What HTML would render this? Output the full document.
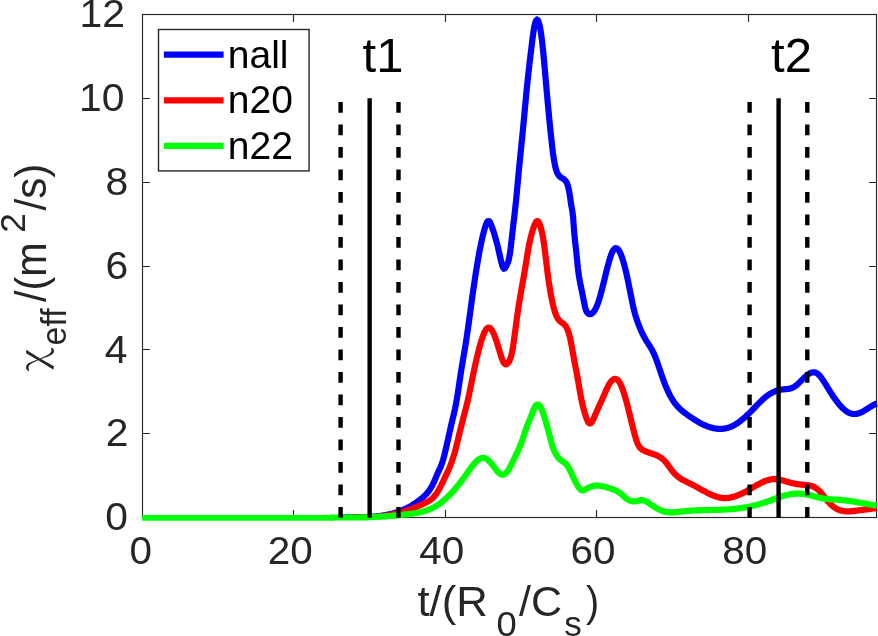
<!DOCTYPE html>
<html lang="en"><head><meta charset="utf-8"><title>chi_eff vs t</title><style>
html,body{margin:0;padding:0;background:#fff;}
body{width:878px;height:636px;overflow:hidden;position:relative;}
text{font-family:"Liberation Sans",Arial,Helvetica,sans-serif;}
.tk{fill:#262626;}
.lg{fill:#000;}
.an{fill:#000;}
.lb{fill:#262626;}
.chi{font-family:"Noto Serif CJK SC","DejaVu Serif",serif;font-weight:400;}
</style></head><body>
<svg width="878" height="636" viewBox="0 0 878 636" style="display:block;position:absolute;left:0;top:0">
<rect width="878" height="636" fill="#fff"/>
<g stroke="#262626" stroke-width="1.15" fill="none">
<rect x="142.5" y="14.5" width="734.0" height="503.0"/>
<path d="M293.5,517.5 v-7.4 M293.5,14.5 v7.4"/>
<path d="M445.5,517.5 v-7.4 M445.5,14.5 v7.4"/>
<path d="M596.5,517.5 v-7.4 M596.5,14.5 v7.4"/>
<path d="M748.5,517.5 v-7.4 M748.5,14.5 v7.4"/>
<path d="M142.5,433.5 h7.4 M876.5,433.5 h-7.4"/>
<path d="M142.5,349.5 h7.4 M876.5,349.5 h-7.4"/>
<path d="M142.5,266.5 h7.4 M876.5,266.5 h-7.4"/>
<path d="M142.5,182.5 h7.4 M876.5,182.5 h-7.4"/>
<path d="M142.5,98.5 h7.4 M876.5,98.5 h-7.4"/>
</g>
<g fill="none" stroke-width="6.2" stroke-linejoin="round" stroke-linecap="butt">
<clipPath id="cp"><rect x="140" y="0" width="740" height="519.6"/></clipPath>
<path stroke="#0000ff" clip-path="url(#cp)" d="M338.0,517.5 L344.0,517.4 L345.0,517.4 L346.0,517.3 L347.0,517.3 L348.0,517.3 L349.0,517.3 L350.0,517.3 L351.0,517.3 L352.0,517.2 L353.0,517.2 L354.0,517.2 L355.0,517.2 L356.0,517.2 L357.0,517.2 L358.0,517.2 L359.0,517.2 L360.0,517.2 L361.0,517.1 L362.0,517.1 L363.0,517.1 L364.0,517.1 L365.0,517.0 L366.0,517.0 L367.0,517.0 L368.0,516.9 L369.0,516.9 L370.0,516.8 L371.0,516.8 L372.0,516.7 L373.0,516.7 L374.0,516.6 L375.0,516.5 L376.0,516.4 L377.0,516.3 L378.0,516.2 L379.0,516.1 L380.0,516.0 L381.0,515.8 L382.0,515.7 L383.0,515.6 L384.0,515.4 L385.0,515.2 L386.0,515.0 L387.0,514.8 L388.0,514.6 L389.0,514.4 L390.0,514.2 L391.0,513.9 L392.0,513.7 L393.0,513.4 L394.0,513.1 L395.0,512.8 L396.0,512.5 L397.0,512.2 L398.0,511.9 L399.0,511.5 L400.0,511.1 L401.0,510.7 L402.0,510.3 L403.0,509.9 L404.0,509.5 L405.0,509.0 L406.0,508.5 L407.0,508.0 L408.0,507.5 L409.0,507.0 L410.0,506.4 L411.0,505.9 L412.0,505.3 L413.0,504.6 L414.0,504.0 L415.0,503.4 L416.0,502.7 L417.0,502.0 L418.0,501.2 L419.0,500.5 L420.0,499.7 L421.0,498.9 L422.0,498.1 L423.0,497.3 L424.0,496.4 L425.0,495.4 L426.0,494.4 L427.0,493.3 L428.0,492.1 L429.0,490.7 L430.0,489.3 L431.0,487.7 L432.0,485.9 L433.0,484.0 L434.0,481.9 L435.0,479.6 L436.0,477.1 L437.0,474.7 L438.0,472.5 L439.0,470.4 L440.0,468.3 L441.0,466.0 L442.0,463.2 L443.0,460.1 L444.0,456.5 L445.0,452.5 L446.0,448.3 L447.0,443.9 L448.0,439.4 L449.0,434.9 L450.0,430.4 L451.0,425.9 L452.0,421.7 L453.0,417.6 L454.0,413.3 L455.0,408.9 L456.0,403.9 L457.0,398.3 L458.0,392.0 L459.0,385.3 L460.0,378.5 L461.0,371.9 L462.0,365.7 L463.0,359.8 L464.0,354.0 L465.0,348.1 L466.0,341.9 L467.0,335.3 L468.0,328.3 L469.0,321.0 L470.0,313.7 L471.0,306.3 L472.0,299.0 L473.0,291.9 L474.0,285.0 L475.0,278.3 L476.0,271.8 L477.0,265.7 L478.0,259.7 L479.0,254.1 L480.0,248.8 L481.0,243.8 L482.0,239.2 L483.0,234.9 L484.0,231.0 L485.0,227.5 L486.0,224.5 L487.0,222.3 L488.0,221.1 L489.0,221.1 L490.0,222.3 L491.0,224.5 L492.0,227.1 L493.0,230.1 L494.0,233.1 L495.0,236.3 L496.0,239.8 L497.0,243.5 L498.0,247.6 L499.0,252.0 L500.0,256.5 L501.0,260.9 L502.0,264.7 L503.0,267.5 L504.0,268.8 L505.0,268.3 L506.0,266.5 L507.0,264.5 L508.0,262.3 L509.0,258.8 L510.0,253.1 L511.0,245.3 L512.0,236.4 L513.0,227.5 L514.0,219.1 L515.0,210.4 L516.0,201.0 L517.0,190.6 L518.0,179.7 L519.0,169.0 L520.0,158.8 L521.0,148.9 L522.0,139.1 L523.0,129.0 L524.0,118.4 L525.0,107.6 L526.0,96.9 L527.0,86.6 L528.0,77.0 L529.0,68.1 L530.0,59.5 L531.0,51.2 L532.0,42.8 L533.0,34.9 L534.0,28.2 L535.0,23.5 L536.0,20.6 L537.0,19.6 L538.0,20.4 L539.0,23.0 L540.0,27.2 L541.0,33.1 L542.0,40.7 L543.0,49.8 L544.0,60.3 L545.0,71.6 L546.0,83.3 L547.0,94.6 L548.0,105.5 L549.0,116.0 L550.0,126.2 L551.0,135.9 L552.0,145.0 L553.0,153.2 L554.0,160.1 L555.0,165.5 L556.0,169.4 L557.0,172.3 L558.0,174.3 L559.0,175.7 L560.0,176.7 L561.0,177.5 L562.0,178.1 L563.0,178.6 L564.0,179.3 L565.0,180.2 L566.0,181.4 L567.0,183.3 L568.0,186.2 L569.0,190.5 L570.0,196.6 L571.0,203.6 L572.0,209.1 L573.0,215.9 L574.0,229.9 L575.0,240.7 L576.0,249.3 L577.0,259.4 L578.0,269.1 L579.0,276.5 L580.0,282.1 L581.0,286.9 L582.0,291.8 L583.0,296.8 L584.0,301.8 L585.0,306.7 L586.0,310.4 L587.0,312.4 L588.0,313.4 L589.0,313.9 L590.0,314.1 L591.0,313.9 L592.0,313.4 L593.0,312.6 L594.0,311.4 L595.0,309.8 L596.0,307.9 L597.0,305.6 L598.0,303.0 L599.0,300.0 L600.0,296.7 L601.0,293.1 L602.0,289.3 L603.0,285.3 L604.0,281.3 L605.0,277.2 L606.0,273.1 L607.0,269.1 L608.0,265.2 L609.0,261.6 L610.0,258.2 L611.0,255.2 L612.0,252.7 L613.0,250.6 L614.0,249.2 L615.0,248.3 L616.0,248.1 L617.0,248.4 L618.0,249.2 L619.0,250.6 L620.0,252.4 L621.0,254.7 L622.0,257.4 L623.0,260.5 L624.0,263.9 L625.0,267.7 L626.0,271.8 L627.0,276.2 L628.0,280.9 L629.0,285.8 L630.0,290.8 L631.0,295.9 L632.0,300.9 L633.0,305.7 L634.0,310.0 L635.0,313.8 L636.0,317.2 L637.0,320.2 L638.0,323.1 L639.0,325.7 L640.0,328.2 L641.0,330.5 L642.0,332.7 L643.0,334.8 L644.0,336.7 L645.0,338.5 L646.0,340.3 L647.0,341.9 L648.0,343.4 L649.0,345.0 L650.0,346.5 L651.0,348.2 L652.0,349.9 L653.0,351.8 L654.0,353.9 L655.0,356.2 L656.0,358.8 L657.0,361.5 L658.0,364.4 L659.0,367.3 L660.0,370.3 L661.0,373.3 L662.0,376.1 L663.0,378.9 L664.0,381.6 L665.0,384.3 L666.0,386.8 L667.0,389.1 L668.0,391.4 L669.0,393.5 L670.0,395.4 L671.0,397.2 L672.0,398.9 L673.0,400.5 L674.0,402.0 L675.0,403.4 L676.0,404.6 L677.0,405.8 L678.0,406.9 L679.0,408.0 L680.0,408.9 L681.0,409.9 L682.0,410.7 L683.0,411.5 L684.0,412.3 L685.0,413.1 L686.0,413.8 L687.0,414.5 L688.0,415.3 L689.0,416.0 L690.0,416.7 L691.0,417.3 L692.0,418.0 L693.0,418.7 L694.0,419.3 L695.0,420.0 L696.0,420.6 L697.0,421.2 L698.0,421.8 L699.0,422.3 L700.0,422.9 L701.0,423.4 L702.0,423.9 L703.0,424.4 L704.0,424.9 L705.0,425.3 L706.0,425.8 L707.0,426.2 L708.0,426.6 L709.0,426.9 L710.0,427.2 L711.0,427.5 L712.0,427.8 L713.0,428.1 L714.0,428.3 L715.0,428.5 L716.0,428.6 L717.0,428.7 L718.0,428.8 L719.0,428.9 L720.0,428.9 L721.0,428.9 L722.0,428.8 L723.0,428.8 L724.0,428.6 L725.0,428.5 L726.0,428.3 L727.0,428.0 L728.0,427.8 L729.0,427.4 L730.0,427.1 L731.0,426.7 L732.0,426.2 L733.0,425.8 L734.0,425.2 L735.0,424.7 L736.0,424.1 L737.0,423.4 L738.0,422.8 L739.0,422.0 L740.0,421.3 L741.0,420.5 L742.0,419.7 L743.0,418.9 L744.0,418.0 L745.0,417.2 L746.0,416.3 L747.0,415.3 L748.0,414.4 L749.0,413.4 L750.0,412.4 L751.0,411.4 L752.0,410.3 L753.0,409.3 L754.0,408.3 L755.0,407.2 L756.0,406.2 L757.0,405.1 L758.0,404.1 L759.0,403.1 L760.0,402.1 L761.0,401.1 L762.0,400.2 L763.0,399.2 L764.0,398.4 L765.0,397.5 L766.0,396.7 L767.0,395.9 L768.0,395.2 L769.0,394.5 L770.0,393.9 L771.0,393.3 L772.0,392.8 L773.0,392.3 L774.0,391.8 L775.0,391.4 L776.0,391.0 L777.0,390.6 L778.0,390.3 L779.0,390.1 L780.0,389.8 L781.0,389.7 L782.0,389.5 L783.0,389.4 L784.0,389.3 L785.0,389.2 L786.0,389.1 L787.0,389.0 L788.0,388.9 L789.0,388.8 L790.0,388.6 L791.0,388.3 L792.0,387.9 L793.0,387.5 L794.0,387.0 L795.0,386.3 L796.0,385.6 L797.0,384.8 L798.0,383.9 L799.0,382.9 L800.0,381.9 L801.0,380.9 L802.0,379.9 L803.0,378.9 L804.0,377.9 L805.0,377.0 L806.0,376.1 L807.0,375.2 L808.0,374.5 L809.0,373.8 L810.0,373.2 L811.0,372.8 L812.0,372.5 L813.0,372.3 L814.0,372.3 L815.0,372.5 L816.0,372.8 L817.0,373.3 L818.0,374.0 L819.0,375.0 L820.0,376.0 L821.0,377.3 L822.0,378.7 L823.0,380.1 L824.0,381.7 L825.0,383.3 L826.0,384.9 L827.0,386.6 L828.0,388.2 L829.0,389.8 L830.0,391.4 L831.0,393.0 L832.0,394.5 L833.0,396.0 L834.0,397.5 L835.0,398.9 L836.0,400.3 L837.0,401.7 L838.0,403.0 L839.0,404.2 L840.0,405.4 L841.0,406.5 L842.0,407.5 L843.0,408.5 L844.0,409.4 L845.0,410.2 L846.0,411.0 L847.0,411.7 L848.0,412.2 L849.0,412.8 L850.0,413.2 L851.0,413.5 L852.0,413.8 L853.0,414.0 L854.0,414.0 L855.0,414.0 L856.0,413.9 L857.0,413.8 L858.0,413.5 L859.0,413.2 L860.0,412.8 L861.0,412.4 L862.0,411.9 L863.0,411.4 L864.0,410.8 L865.0,410.2 L866.0,409.6 L867.0,409.0 L868.0,408.3 L869.0,407.7 L870.0,407.1 L871.0,406.5 L872.0,405.9 L873.0,405.3 L874.0,404.8 L875.0,404.3 L876.0,403.8 L876.8,403.5"/>
<path stroke="#ff0000" clip-path="url(#cp)" d="M350.0,517.5 L360.0,517.4 L361.0,517.4 L362.0,517.4 L363.0,517.4 L364.0,517.4 L365.0,517.4 L366.0,517.4 L367.0,517.4 L368.0,517.3 L369.0,517.3 L370.0,517.3 L371.0,517.2 L372.0,517.2 L373.0,517.1 L374.0,517.0 L375.0,517.0 L376.0,516.9 L377.0,516.8 L378.0,516.7 L379.0,516.6 L380.0,516.5 L381.0,516.3 L382.0,516.2 L383.0,516.1 L384.0,515.9 L385.0,515.8 L386.0,515.6 L387.0,515.5 L388.0,515.3 L389.0,515.1 L390.0,514.9 L391.0,514.7 L392.0,514.5 L393.0,514.3 L394.0,514.1 L395.0,513.9 L396.0,513.6 L397.0,513.4 L398.0,513.1 L399.0,512.9 L400.0,512.6 L401.0,512.3 L402.0,512.0 L403.0,511.7 L404.0,511.4 L405.0,511.1 L406.0,510.8 L407.0,510.5 L408.0,510.1 L409.0,509.8 L410.0,509.4 L411.0,509.1 L412.0,508.7 L413.0,508.3 L414.0,507.9 L415.0,507.5 L416.0,507.1 L417.0,506.7 L418.0,506.2 L419.0,505.8 L420.0,505.3 L421.0,504.9 L422.0,504.4 L423.0,503.9 L424.0,503.4 L425.0,502.9 L426.0,502.4 L427.0,501.9 L428.0,501.4 L429.0,500.8 L430.0,500.2 L431.0,499.5 L432.0,498.7 L433.0,497.7 L434.0,496.7 L435.0,495.5 L436.0,494.1 L437.0,492.7 L438.0,491.1 L439.0,489.3 L440.0,487.5 L441.0,485.6 L442.0,483.6 L443.0,481.6 L444.0,479.5 L445.0,477.4 L446.0,475.2 L447.0,473.1 L448.0,471.0 L449.0,468.8 L450.0,466.4 L451.0,463.9 L452.0,461.1 L453.0,458.1 L454.0,454.9 L455.0,451.3 L456.0,447.6 L457.0,443.6 L458.0,439.5 L459.0,435.3 L460.0,431.0 L461.0,426.9 L462.0,422.9 L463.0,419.0 L464.0,415.2 L465.0,411.5 L466.0,407.7 L467.0,403.7 L468.0,399.5 L469.0,394.9 L470.0,390.2 L471.0,385.3 L472.0,380.4 L473.0,375.4 L474.0,370.5 L475.0,365.8 L476.0,361.3 L477.0,357.0 L478.0,352.9 L479.0,349.1 L480.0,345.4 L481.0,341.9 L482.0,338.7 L483.0,335.8 L484.0,333.3 L485.0,331.2 L486.0,329.5 L487.0,328.3 L488.0,327.7 L489.0,327.6 L490.0,328.0 L491.0,329.0 L492.0,330.4 L493.0,332.2 L494.0,334.4 L495.0,337.0 L496.0,339.8 L497.0,342.8 L498.0,346.0 L499.0,349.3 L500.0,352.7 L501.0,356.0 L502.0,358.9 L503.0,361.4 L504.0,363.1 L505.0,364.1 L506.0,364.3 L507.0,363.9 L508.0,363.0 L509.0,361.6 L510.0,359.5 L511.0,356.5 L512.0,352.3 L513.0,346.7 L514.0,339.9 L515.0,332.5 L516.0,325.0 L517.0,317.4 L518.0,310.4 L519.0,303.9 L520.0,297.8 L521.0,292.0 L522.0,286.3 L523.0,280.7 L524.0,275.1 L525.0,269.2 L526.0,263.0 L527.0,256.8 L528.0,250.7 L529.0,245.2 L530.0,240.4 L531.0,236.2 L532.0,232.5 L533.0,229.3 L534.0,226.3 L535.0,223.7 L536.0,221.9 L537.0,221.0 L538.0,221.2 L539.0,222.5 L540.0,224.9 L541.0,228.3 L542.0,232.5 L543.0,237.6 L544.0,244.0 L545.0,251.6 L546.0,260.0 L547.0,268.4 L548.0,276.2 L549.0,283.3 L550.0,289.6 L551.0,295.4 L552.0,300.5 L553.0,304.9 L554.0,308.8 L555.0,312.1 L556.0,314.9 L557.0,317.1 L558.0,318.9 L559.0,320.2 L560.0,321.2 L561.0,322.0 L562.0,322.7 L563.0,323.4 L564.0,324.2 L565.0,325.2 L566.0,326.6 L567.0,328.4 L568.0,330.8 L569.0,333.9 L570.0,337.7 L571.0,342.4 L572.0,347.7 L573.0,353.4 L574.0,359.1 L575.0,364.5 L576.0,369.4 L577.0,374.4 L578.0,380.1 L579.0,386.2 L580.0,392.1 L581.0,397.5 L582.0,402.3 L583.0,406.5 L584.0,410.4 L585.0,413.8 L586.0,417.0 L587.0,419.7 L588.0,421.8 L589.0,423.1 L590.0,423.6 L591.0,423.1 L592.0,421.8 L593.0,419.9 L594.0,417.7 L595.0,415.3 L596.0,413.0 L597.0,410.7 L598.0,408.5 L599.0,406.3 L600.0,404.2 L601.0,402.0 L602.0,399.8 L603.0,397.5 L604.0,395.2 L605.0,392.9 L606.0,390.6 L607.0,388.4 L608.0,386.4 L609.0,384.5 L610.0,382.8 L611.0,381.5 L612.0,380.4 L613.0,379.6 L614.0,379.0 L615.0,378.9 L616.0,379.0 L617.0,379.5 L618.0,380.4 L619.0,381.6 L620.0,383.2 L621.0,385.2 L622.0,387.6 L623.0,390.3 L624.0,393.3 L625.0,396.6 L626.0,400.1 L627.0,403.8 L628.0,407.7 L629.0,411.7 L630.0,415.8 L631.0,420.0 L632.0,424.1 L633.0,428.1 L634.0,432.1 L635.0,435.8 L636.0,439.2 L637.0,442.1 L638.0,444.5 L639.0,446.3 L640.0,447.7 L641.0,448.7 L642.0,449.5 L643.0,450.1 L644.0,450.6 L645.0,451.1 L646.0,451.5 L647.0,451.9 L648.0,452.3 L649.0,452.6 L650.0,453.0 L651.0,453.3 L652.0,453.6 L653.0,454.0 L654.0,454.3 L655.0,454.7 L656.0,455.1 L657.0,455.5 L658.0,456.0 L659.0,456.5 L660.0,457.1 L661.0,457.7 L662.0,458.5 L663.0,459.3 L664.0,460.2 L665.0,461.3 L666.0,462.4 L667.0,463.7 L668.0,465.1 L669.0,466.5 L670.0,467.9 L671.0,469.3 L672.0,470.6 L673.0,471.9 L674.0,473.0 L675.0,474.1 L676.0,475.0 L677.0,475.9 L678.0,476.8 L679.0,477.5 L680.0,478.2 L681.0,478.9 L682.0,479.5 L683.0,480.1 L684.0,480.6 L685.0,481.1 L686.0,481.6 L687.0,482.1 L688.0,482.6 L689.0,483.1 L690.0,483.5 L691.0,484.0 L692.0,484.5 L693.0,485.0 L694.0,485.6 L695.0,486.1 L696.0,486.6 L697.0,487.2 L698.0,487.7 L699.0,488.3 L700.0,488.9 L701.0,489.4 L702.0,490.0 L703.0,490.5 L704.0,491.1 L705.0,491.6 L706.0,492.1 L707.0,492.7 L708.0,493.2 L709.0,493.7 L710.0,494.1 L711.0,494.6 L712.0,495.0 L713.0,495.4 L714.0,495.8 L715.0,496.2 L716.0,496.5 L717.0,496.8 L718.0,497.1 L719.0,497.4 L720.0,497.6 L721.0,497.8 L722.0,497.9 L723.0,498.0 L724.0,498.1 L725.0,498.1 L726.0,498.1 L727.0,498.0 L728.0,497.9 L729.0,497.8 L730.0,497.6 L731.0,497.4 L732.0,497.2 L733.0,496.9 L734.0,496.7 L735.0,496.3 L736.0,496.0 L737.0,495.6 L738.0,495.2 L739.0,494.8 L740.0,494.4 L741.0,493.9 L742.0,493.5 L743.0,493.0 L744.0,492.5 L745.0,491.9 L746.0,491.4 L747.0,490.8 L748.0,490.3 L749.0,489.7 L750.0,489.1 L751.0,488.5 L752.0,487.9 L753.0,487.3 L754.0,486.7 L755.0,486.2 L756.0,485.6 L757.0,485.0 L758.0,484.5 L759.0,483.9 L760.0,483.4 L761.0,482.9 L762.0,482.4 L763.0,482.0 L764.0,481.5 L765.0,481.1 L766.0,480.7 L767.0,480.4 L768.0,480.1 L769.0,479.8 L770.0,479.6 L771.0,479.4 L772.0,479.2 L773.0,479.1 L774.0,479.1 L775.0,479.1 L776.0,479.1 L777.0,479.2 L778.0,479.3 L779.0,479.5 L780.0,479.7 L781.0,480.0 L782.0,480.2 L783.0,480.5 L784.0,480.8 L785.0,481.1 L786.0,481.4 L787.0,481.7 L788.0,482.0 L789.0,482.3 L790.0,482.6 L791.0,482.8 L792.0,483.1 L793.0,483.3 L794.0,483.5 L795.0,483.7 L796.0,483.9 L797.0,484.1 L798.0,484.2 L799.0,484.3 L800.0,484.5 L801.0,484.6 L802.0,484.7 L803.0,484.8 L804.0,484.9 L805.0,485.0 L806.0,485.1 L807.0,485.2 L808.0,485.3 L809.0,485.4 L810.0,485.6 L811.0,485.8 L812.0,486.1 L813.0,486.5 L814.0,486.9 L815.0,487.5 L816.0,488.1 L817.0,488.8 L818.0,489.7 L819.0,490.6 L820.0,491.6 L821.0,492.7 L822.0,493.9 L823.0,495.1 L824.0,496.4 L825.0,497.6 L826.0,498.9 L827.0,500.2 L828.0,501.4 L829.0,502.5 L830.0,503.5 L831.0,504.5 L832.0,505.5 L833.0,506.3 L834.0,507.1 L835.0,507.8 L836.0,508.4 L837.0,509.0 L838.0,509.5 L839.0,509.9 L840.0,510.3 L841.0,510.6 L842.0,510.8 L843.0,511.0 L844.0,511.2 L845.0,511.3 L846.0,511.4 L847.0,511.4 L848.0,511.4 L849.0,511.4 L850.0,511.3 L851.0,511.2 L852.0,511.2 L853.0,511.1 L854.0,510.9 L855.0,510.8 L856.0,510.7 L857.0,510.6 L858.0,510.5 L859.0,510.3 L860.0,510.2 L861.0,510.1 L862.0,510.0 L863.0,509.8 L864.0,509.7 L865.0,509.6 L866.0,509.4 L867.0,509.3 L868.0,509.2 L869.0,509.1 L870.0,508.9 L871.0,508.8 L872.0,508.7 L873.0,508.5 L874.0,508.4 L875.0,508.3 L876.0,508.1 L876.8,508.0"/>
<path stroke="#00ff00" d="M330.0,517.5 L340.0,517.5 L341.0,517.5 L342.0,517.5 L343.0,517.5 L344.0,517.5 L345.0,517.5 L346.0,517.5 L347.0,517.5 L348.0,517.5 L349.0,517.5 L350.0,517.5 L351.0,517.5 L352.0,517.5 L353.0,517.5 L354.0,517.5 L355.0,517.5 L356.0,517.5 L357.0,517.5 L358.0,517.5 L359.0,517.5 L360.0,517.5 L361.0,517.5 L362.0,517.4 L363.0,517.4 L364.0,517.4 L365.0,517.4 L366.0,517.3 L367.0,517.3 L368.0,517.2 L369.0,517.2 L370.0,517.2 L371.0,517.1 L372.0,517.1 L373.0,517.0 L374.0,517.0 L375.0,516.9 L376.0,516.9 L377.0,516.8 L378.0,516.8 L379.0,516.7 L380.0,516.7 L381.0,516.6 L382.0,516.5 L383.0,516.5 L384.0,516.4 L385.0,516.3 L386.0,516.3 L387.0,516.2 L388.0,516.1 L389.0,516.0 L390.0,516.0 L391.0,515.9 L392.0,515.8 L393.0,515.7 L394.0,515.6 L395.0,515.5 L396.0,515.4 L397.0,515.4 L398.0,515.3 L399.0,515.2 L400.0,515.1 L401.0,515.0 L402.0,514.8 L403.0,514.7 L404.0,514.6 L405.0,514.5 L406.0,514.4 L407.0,514.3 L408.0,514.2 L409.0,514.0 L410.0,513.9 L411.0,513.8 L412.0,513.7 L413.0,513.5 L414.0,513.4 L415.0,513.2 L416.0,513.0 L417.0,512.9 L418.0,512.7 L419.0,512.5 L420.0,512.3 L421.0,512.0 L422.0,511.8 L423.0,511.5 L424.0,511.3 L425.0,511.0 L426.0,510.6 L427.0,510.3 L428.0,509.9 L429.0,509.5 L430.0,509.1 L431.0,508.7 L432.0,508.2 L433.0,507.7 L434.0,507.2 L435.0,506.7 L436.0,506.1 L437.0,505.4 L438.0,504.8 L439.0,504.1 L440.0,503.4 L441.0,502.6 L442.0,501.9 L443.0,501.0 L444.0,500.2 L445.0,499.3 L446.0,498.4 L447.0,497.5 L448.0,496.5 L449.0,495.5 L450.0,494.5 L451.0,493.5 L452.0,492.4 L453.0,491.3 L454.0,490.2 L455.0,489.0 L456.0,487.8 L457.0,486.6 L458.0,485.4 L459.0,484.1 L460.0,482.8 L461.0,481.5 L462.0,480.2 L463.0,478.9 L464.0,477.5 L465.0,476.1 L466.0,474.7 L467.0,473.3 L468.0,471.9 L469.0,470.4 L470.0,469.1 L471.0,467.7 L472.0,466.4 L473.0,465.1 L474.0,463.9 L475.0,462.8 L476.0,461.7 L477.0,460.8 L478.0,459.9 L479.0,459.2 L480.0,458.6 L481.0,458.2 L482.0,457.9 L483.0,457.8 L484.0,457.8 L485.0,458.1 L486.0,458.6 L487.0,459.2 L488.0,460.0 L489.0,460.9 L490.0,462.0 L491.0,463.1 L492.0,464.3 L493.0,465.6 L494.0,467.0 L495.0,468.4 L496.0,469.7 L497.0,470.9 L498.0,472.1 L499.0,473.0 L500.0,473.7 L501.0,474.3 L502.0,474.6 L503.0,474.6 L504.0,474.4 L505.0,473.9 L506.0,473.1 L507.0,472.0 L508.0,470.6 L509.0,469.0 L510.0,467.1 L511.0,465.1 L512.0,463.1 L513.0,461.1 L514.0,459.0 L515.0,457.0 L516.0,455.0 L517.0,452.9 L518.0,450.7 L519.0,448.4 L520.0,446.0 L521.0,443.5 L522.0,440.8 L523.0,437.9 L524.0,434.9 L525.0,431.8 L526.0,428.9 L527.0,426.2 L528.0,423.7 L529.0,421.3 L530.0,418.9 L531.0,416.5 L532.0,414.0 L533.0,411.3 L534.0,408.7 L535.0,406.6 L536.0,405.2 L537.0,404.5 L538.0,404.5 L539.0,405.0 L540.0,406.2 L541.0,408.0 L542.0,410.2 L543.0,412.8 L544.0,415.8 L545.0,419.0 L546.0,422.5 L547.0,426.0 L548.0,429.7 L549.0,433.5 L550.0,437.3 L551.0,441.2 L552.0,444.8 L553.0,448.0 L554.0,450.4 L555.0,452.4 L556.0,454.2 L557.0,455.9 L558.0,457.4 L559.0,458.6 L560.0,459.5 L561.0,460.3 L562.0,460.9 L563.0,461.6 L564.0,462.2 L565.0,463.0 L566.0,464.0 L567.0,465.3 L568.0,466.8 L569.0,468.5 L570.0,470.4 L571.0,472.4 L572.0,474.5 L573.0,476.7 L574.0,478.8 L575.0,480.9 L576.0,482.9 L577.0,484.8 L578.0,486.5 L579.0,487.9 L580.0,489.0 L581.0,489.9 L582.0,490.4 L583.0,490.4 L584.0,490.2 L585.0,489.7 L586.0,489.1 L587.0,488.6 L588.0,488.1 L589.0,487.6 L590.0,487.1 L591.0,486.7 L592.0,486.3 L593.0,486.0 L594.0,485.8 L595.0,485.7 L596.0,485.6 L597.0,485.6 L598.0,485.6 L599.0,485.7 L600.0,485.8 L601.0,486.0 L602.0,486.1 L603.0,486.4 L604.0,486.6 L605.0,486.9 L606.0,487.2 L607.0,487.5 L608.0,487.8 L609.0,488.1 L610.0,488.4 L611.0,488.7 L612.0,489.0 L613.0,489.4 L614.0,489.8 L615.0,490.2 L616.0,490.6 L617.0,491.1 L618.0,491.7 L619.0,492.3 L620.0,493.0 L621.0,493.8 L622.0,494.7 L623.0,495.6 L624.0,496.5 L625.0,497.4 L626.0,498.3 L627.0,499.1 L628.0,499.8 L629.0,500.3 L630.0,500.7 L631.0,501.0 L632.0,501.2 L633.0,501.3 L634.0,501.3 L635.0,501.3 L636.0,501.2 L637.0,501.1 L638.0,500.8 L639.0,500.5 L640.0,500.3 L641.0,500.2 L642.0,500.2 L643.0,500.3 L644.0,500.6 L645.0,500.9 L646.0,501.4 L647.0,501.9 L648.0,502.5 L649.0,503.2 L650.0,503.9 L651.0,504.6 L652.0,505.3 L653.0,506.0 L654.0,506.6 L655.0,507.3 L656.0,507.9 L657.0,508.4 L658.0,509.0 L659.0,509.5 L660.0,510.0 L661.0,510.4 L662.0,510.8 L663.0,511.2 L664.0,511.5 L665.0,511.7 L666.0,511.9 L667.0,512.1 L668.0,512.2 L669.0,512.3 L670.0,512.4 L671.0,512.4 L672.0,512.4 L673.0,512.4 L674.0,512.4 L675.0,512.3 L676.0,512.2 L677.0,512.1 L678.0,512.0 L679.0,511.9 L680.0,511.8 L681.0,511.6 L682.0,511.5 L683.0,511.4 L684.0,511.3 L685.0,511.2 L686.0,511.1 L687.0,511.0 L688.0,510.9 L689.0,510.8 L690.0,510.8 L691.0,510.7 L692.0,510.6 L693.0,510.6 L694.0,510.5 L695.0,510.5 L696.0,510.4 L697.0,510.4 L698.0,510.3 L699.0,510.3 L700.0,510.3 L701.0,510.2 L702.0,510.2 L703.0,510.2 L704.0,510.2 L705.0,510.1 L706.0,510.1 L707.0,510.1 L708.0,510.1 L709.0,510.1 L710.0,510.0 L711.0,510.0 L712.0,510.0 L713.0,510.0 L714.0,509.9 L715.0,509.9 L716.0,509.9 L717.0,509.9 L718.0,509.8 L719.0,509.8 L720.0,509.8 L721.0,509.7 L722.0,509.7 L723.0,509.7 L724.0,509.6 L725.0,509.6 L726.0,509.5 L727.0,509.5 L728.0,509.4 L729.0,509.3 L730.0,509.3 L731.0,509.2 L732.0,509.1 L733.0,509.0 L734.0,508.9 L735.0,508.8 L736.0,508.7 L737.0,508.6 L738.0,508.5 L739.0,508.4 L740.0,508.2 L741.0,508.1 L742.0,507.9 L743.0,507.8 L744.0,507.6 L745.0,507.4 L746.0,507.3 L747.0,507.1 L748.0,506.9 L749.0,506.7 L750.0,506.5 L751.0,506.3 L752.0,506.0 L753.0,505.8 L754.0,505.5 L755.0,505.3 L756.0,505.0 L757.0,504.8 L758.0,504.5 L759.0,504.2 L760.0,503.9 L761.0,503.6 L762.0,503.3 L763.0,503.0 L764.0,502.7 L765.0,502.4 L766.0,502.0 L767.0,501.7 L768.0,501.3 L769.0,501.0 L770.0,500.6 L771.0,500.3 L772.0,499.9 L773.0,499.5 L774.0,499.1 L775.0,498.8 L776.0,498.4 L777.0,498.0 L778.0,497.7 L779.0,497.3 L780.0,497.0 L781.0,496.6 L782.0,496.3 L783.0,496.0 L784.0,495.7 L785.0,495.4 L786.0,495.2 L787.0,494.9 L788.0,494.7 L789.0,494.5 L790.0,494.3 L791.0,494.1 L792.0,494.0 L793.0,493.8 L794.0,493.8 L795.0,493.7 L796.0,493.6 L797.0,493.6 L798.0,493.6 L799.0,493.6 L800.0,493.6 L801.0,493.7 L802.0,493.8 L803.0,493.9 L804.0,494.0 L805.0,494.2 L806.0,494.3 L807.0,494.5 L808.0,494.7 L809.0,495.0 L810.0,495.2 L811.0,495.5 L812.0,495.8 L813.0,496.0 L814.0,496.3 L815.0,496.6 L816.0,496.9 L817.0,497.2 L818.0,497.4 L819.0,497.7 L820.0,497.9 L821.0,498.1 L822.0,498.3 L823.0,498.5 L824.0,498.7 L825.0,498.8 L826.0,498.9 L827.0,499.0 L828.0,499.1 L829.0,499.2 L830.0,499.3 L831.0,499.4 L832.0,499.4 L833.0,499.5 L834.0,499.6 L835.0,499.6 L836.0,499.7 L837.0,499.7 L838.0,499.8 L839.0,499.9 L840.0,499.9 L841.0,500.0 L842.0,500.1 L843.0,500.2 L844.0,500.3 L845.0,500.4 L846.0,500.5 L847.0,500.7 L848.0,500.8 L849.0,500.9 L850.0,501.1 L851.0,501.2 L852.0,501.4 L853.0,501.5 L854.0,501.7 L855.0,501.8 L856.0,502.0 L857.0,502.2 L858.0,502.3 L859.0,502.5 L860.0,502.7 L861.0,502.9 L862.0,503.0 L863.0,503.2 L864.0,503.4 L865.0,503.6 L866.0,503.8 L867.0,503.9 L868.0,504.1 L869.0,504.3 L870.0,504.5 L871.0,504.7 L872.0,504.8 L873.0,505.0 L874.0,505.2 L875.0,505.4 L876.0,505.5 L876.8,505.7"/>
<path stroke="#00ff00" stroke-width="5.75" d="M142.2,517.75 H334"/>
</g>
<g stroke="#000" stroke-width="4.4" fill="none">
<path d="M369.65,517.8 V98.33"/>
<path d="M778.6,517.8 V98.33"/>
<path stroke-dasharray="10.8 11.7" d="M340.6,517.8 V98.33"/>
<path stroke-dasharray="10.8 11.7" d="M398.5,517.8 V98.33"/>
<path stroke-dasharray="10.8 11.7" d="M749.6,517.8 V98.33"/>
<path stroke-dasharray="10.8 11.7" d="M807.3,517.8 V98.33"/>
</g>
<rect x="158.5" y="29.5" width="150.6" height="141.4" fill="#fff" stroke="#262626" stroke-width="1.4"/>
<path d="M163.9,54.7 H223.6" stroke="#0000ff" stroke-width="6.2" fill="none"/>
<path d="M163.9,100.3 H223.6" stroke="#ff0000" stroke-width="6.2" fill="none"/>
<path d="M163.9,145.9 H223.6" stroke="#00ff00" stroke-width="6.2" fill="none"/>
<text class="tk" style="font-size:39.1px" transform="translate(129.45,564.00) scale(1.0350,1)">0</text>
<text class="tk" style="font-size:39.1px" transform="translate(267.72,564.00) scale(1.0350,1)">20</text>
<text class="tk" style="font-size:39.1px" transform="translate(419.22,564.00) scale(1.0350,1)">40</text>
<text class="tk" style="font-size:39.1px" transform="translate(570.46,564.00) scale(1.0350,1)">60</text>
<text class="tk" style="font-size:39.1px" transform="translate(722.20,564.00) scale(1.0350,1)">80</text>
<text class="tk" style="font-size:39.1px" transform="translate(105.27,530.20) scale(1.0450,1)">0</text>
<text class="tk" style="font-size:39.1px" transform="translate(105.73,446.37) scale(1.0450,1)">2</text>
<text class="tk" style="font-size:39.1px" transform="translate(104.87,362.53) scale(1.0450,1)">4</text>
<text class="tk" style="font-size:39.1px" transform="translate(105.47,278.70) scale(1.0450,1)">6</text>
<text class="tk" style="font-size:39.1px" transform="translate(105.45,194.87) scale(1.0450,1)">8</text>
<text class="tk" style="font-size:39.1px" transform="translate(79.05,111.03) scale(1.0450,1)">10</text>
<text class="tk" style="font-size:39.1px" transform="translate(79.51,27.20) scale(1.0450,1)">12</text>
<text class="lg" style="font-size:37.9px" transform="translate(227.71,67.60) scale(1.0300,1)">nall</text>
<text class="lg" style="font-size:37.9px" transform="translate(227.71,113.20) scale(1.0300,1)">n20</text>
<text class="lg" style="font-size:37.9px" transform="translate(227.71,158.80) scale(1.0300,1)">n22</text>
<text class="an" style="font-size:49px" transform="translate(362.56,71.90) scale(1.0000,1)">t1</text>
<text class="an" style="font-size:49px" transform="translate(771.06,71.90) scale(1.0000,1)">t2</text>
<text class="lb" style="font-size:43px" transform="translate(417.44,616.10) scale(1.0162,1)">t/(R</text>
<text class="lb" style="font-size:34.5px" transform="translate(496.48,635.60) scale(1.0551,1)">0</text>
<text class="lb" style="font-size:43px" transform="translate(519.00,616.10) scale(1.0009,1)">/C</text>
<text class="lb" style="font-size:34.5px" transform="translate(564.22,635.60) scale(1.0171,1)">s</text>
<text class="lb" style="font-size:43px" transform="translate(586.07,616.10) scale(0.9210,1)">)</text>
<text class="lb chi" style="font-size:38.43px" transform="translate(46.33,371.13) rotate(-90) scale(1.0998,1)">χ</text>
<text class="lb" style="font-size:34.8px" transform="translate(66.20,345.44) rotate(-90) scale(0.9741,1)">eff</text>
<text class="lb" style="font-size:44px" transform="translate(46.00,302.00) rotate(-90) scale(0.9385,1)">/(m</text>
<text class="lb" style="font-size:34.8px" transform="translate(24.80,232.77) rotate(-90) scale(1.0092,1)">2</text>
<text class="lb" style="font-size:44px" transform="translate(46.00,210.60) rotate(-90) scale(0.9621,1)">/s)</text>
</svg>
</body></html>
